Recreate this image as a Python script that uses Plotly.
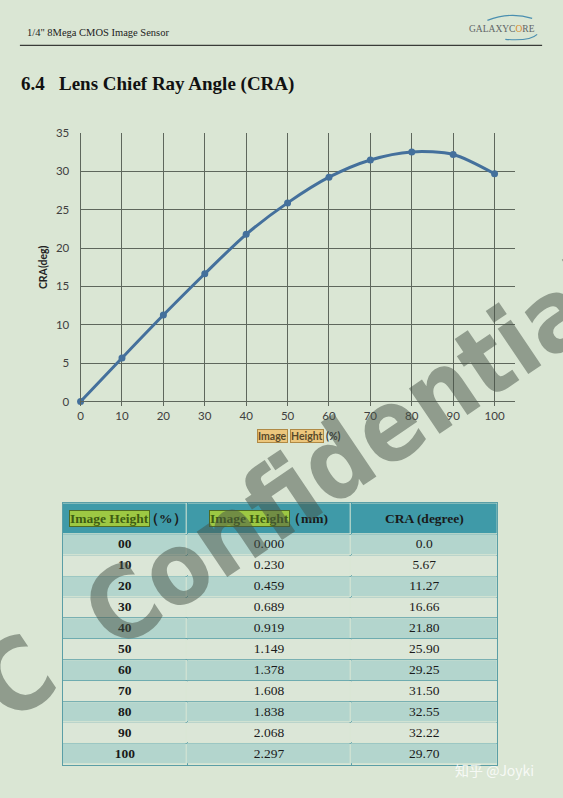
import plotly.graph_objects as go

# chart / table data
image_height_pct = [0, 10, 20, 30, 40, 50, 60, 70, 80, 90, 100]
image_height_mm = [0.000, 0.230, 0.459, 0.689, 0.919, 1.149, 1.378, 1.608, 1.838, 2.068, 2.297]
cra_deg = [0.0, 5.67, 11.27, 16.66, 21.80, 25.90, 29.25, 31.50, 32.55, 32.22, 29.70]

x_ticks = [0, 10, 20, 30, 40, 50, 60, 70, 80, 90, 100]
y_ticks = [0, 5, 10, 15, 20, 25, 30, 35]

W, H = 563, 798
PAGE_BG = "#dae6d4"
LINE_BLUE = "#44709c"
GRID = "#5e675c"
TABLE_LINE = "#5a9ea6"
SERIF = "Liberation Serif"
SANS = "Lato"

# table geometry (pixels inside the table box)
COL_EDGES = [0, 125, 290, 437]
HEADER_H, ROW_H = 31, 21

# the page snapshot comes out slightly squeezed vertically, correct for it
Y_OFF, Y_SCALE = 5.6, 0.986


def px(x):
    return x / W


def py(y):
    return 1 - ((y - Y_OFF) / Y_SCALE) / H


fig = go.Figure()

# ---- chart ----
fig.add_trace(go.Scatter(
    x=image_height_pct,
    y=cra_deg,
    mode="lines+markers",
    line=dict(color=LINE_BLUE, width=3, shape="spline", smoothing=0.8),
    marker=dict(color=LINE_BLUE, size=7),
    cliponaxis=False,
    showlegend=False,
    xaxis="x", yaxis="y",
))

# ---- table (heatmap for the cell fills, text trace for the values) ----
n_rows = len(image_height_pct)
row_edges = [0, HEADER_H] + [HEADER_H + ROW_H * (i + 1) for i in range(n_rows)]
row_mid = [(row_edges[i + 1] + row_edges[i + 2]) / 2 for i in range(n_rows)]
col_mid = [(COL_EDGES[i] + COL_EDGES[i + 1]) / 2 for i in range(3)]

z = [[0, 0, 0]] + [[1 if i % 2 == 0 else 2] * 3 for i in range(n_rows)]
fig.add_trace(go.Heatmap(
    x=COL_EDGES, y=row_edges, z=z,
    zmin=0, zmax=2,
    colorscale=[[0, "#3f9aa8"], [0.5, "#b3d5cd"], [1, "#dbe6d7"]],
    showscale=False, xgap=1, ygap=1, hoverinfo="skip",
    xaxis="x2", yaxis="y2",
))

pct_labels = [f"<b>{v:02d}</b>" for v in image_height_pct]
mm_labels = [f"{v:.3f}" for v in image_height_mm]
cra_labels = ["0.0" if v == 0 else f"{v:.2f}" for v in cra_deg]
for ci, labels in enumerate([pct_labels, mm_labels, cra_labels]):
    fig.add_trace(go.Scatter(
        x=[col_mid[ci]] * n_rows, y=row_mid, text=labels,
        mode="text", textposition="middle center",
        textfont=dict(family=SERIF, size=13.5, color="#1a1a1a"),
        showlegend=False, hoverinfo="skip",
        xaxis="x2", yaxis="y2",
    ))

fig.update_layout(
    width=W, height=H,
    margin=dict(l=0, r=0, t=0, b=0),
    paper_bgcolor=PAGE_BG,
    plot_bgcolor=PAGE_BG,
    xaxis=dict(
        domain=[px(78), px(515)],
        range=[0, 105],
        tickvals=x_ticks,
        showgrid=True, gridcolor=GRID, gridwidth=1,
        showline=True, linecolor=GRID, linewidth=1,
        ticks="outside", ticklen=4, tickcolor=GRID,
        zeroline=False,
        tickfont=dict(family=SANS, size=11.5, color="#404040"),
        fixedrange=True,
    ),
    yaxis=dict(
        domain=[py(401), py(132)],
        range=[0, 35],
        tickvals=y_ticks,
        showgrid=True, gridcolor=GRID, gridwidth=1,
        showline=True, linecolor=GRID, linewidth=1,
        zeroline=False,
        ticks="", ticklabelstandoff=8,
        tickfont=dict(family=SANS, size=11.5, color="#404040"),
        title=dict(text="<b>CRA(deg)</b>", font=dict(family=SANS, size=10.5, color="#222"), standoff=6),
        fixedrange=True,
    ),
    xaxis2=dict(
        domain=[px(60), px(497)], range=[0, COL_EDGES[-1]], anchor="y2",
        tickvals=COL_EDGES, showticklabels=False, ticks="",
        showgrid=True, gridcolor=TABLE_LINE, gridwidth=1, zeroline=False,
        showline=True, linecolor=TABLE_LINE, linewidth=1, mirror=True,
        fixedrange=True,
    ),
    yaxis2=dict(
        domain=[py(765), py(503)], range=[row_edges[-1], 0], anchor="x2",
        tickvals=row_edges, showticklabels=False, ticks="",
        showgrid=True, gridcolor=TABLE_LINE, gridwidth=1, zeroline=False,
        showline=True, linecolor=TABLE_LINE, linewidth=1, mirror=True,
        fixedrange=True,
    ),
)

# page header
fig.add_shape(type="line", xref="paper", yref="paper",
              x0=px(17), x1=px(542), y0=py(44), y1=py(44),
              line=dict(color="#111", width=1))
fig.add_shape(type="path", xref="paper", yref="paper",
              path=f"M {px(487)},{py(19)} Q {px(510)},{py(10)} {px(532)},{py(17)}",
              line=dict(color="#4a8fb0", width=1.2))
fig.add_shape(type="path", xref="paper", yref="paper",
              path=f"M {px(505)},{py(38)} Q {px(530)},{py(40)} {px(537)},{py(33)}",
              line=dict(color="#4a8fb0", width=1.2))

HL_GREEN = dict(bgcolor="#9dc843", bordercolor="#4f6b22", borderwidth=1, borderpad=0)
HL_ORANGE = dict(bgcolor="#ecc67c", bordercolor="#b08a45", borderwidth=1, borderpad=0)
hdr_font = dict(family=SERIF, size=13.5, color="#1a1a1a")
hl_font = dict(family=SERIF, size=13.5, color="#3d5c12")

annotations = [
    dict(text="1/4\" 8Mega CMOS Image Sensor", x=px(22), y=py(31), xanchor="left",
         font=dict(family=SERIF, size=10.5, color="#222")),
    dict(text="GALAXYC<span style='color:#d98a2a'>O</span>RE", x=px(502), y=py(28),
         font=dict(family=SERIF, size=9.5, color="#5f6566")),
    dict(text="<b>6.4&nbsp;&nbsp;&nbsp;Lens Chief Ray Angle (CRA)</b>", x=px(16), y=py(83), xanchor="left",
         font=dict(family=SERIF, size=19, color="#111")),
    # x axis title with highlighted words
    dict(text="<b>Image</b>", x=px(270.5), y=py(436), **HL_ORANGE,
         font=dict(family=SANS, size=10.5, color="#5a4a2a")),
    dict(text="<b>Height</b>", x=px(306), y=py(436), **HL_ORANGE,
         font=dict(family=SANS, size=10.5, color="#5a4a2a")),
    dict(text="<b>(%)</b>", x=px(332), y=py(436),
         font=dict(family=SANS, size=10.5, color="#333")),
    # table header
    dict(text="<b>Image Height</b>", x=47, y=HEADER_H / 2, xref="x2", yref="y2", **HL_GREEN, font=hl_font),
    dict(text="<b>（%）</b>", x=104, y=HEADER_H / 2, xref="x2", yref="y2", font=hdr_font),
    dict(text="<b>Image Height</b>", x=187.5, y=HEADER_H / 2, xref="x2", yref="y2", **HL_GREEN, font=hl_font),
    dict(text="<b>（mm)</b>", x=246, y=HEADER_H / 2, xref="x2", yref="y2", font=hdr_font),
    dict(text="<b>CRA (degree)</b>", x=col_mid[2], y=HEADER_H / 2, xref="x2", yref="y2", font=hdr_font),
    # watermark
    dict(text="<b>GC&nbsp;&nbsp;Confidential</b>", x=px(264), y=py(509), textangle=-34,
         font=dict(family="DejaVu Sans Condensed, DejaVu Sans", size=100, color="rgba(70,82,70,0.5)")),
    dict(text="知乎 @Joyki", x=px(494), y=py(770),
         font=dict(family="Noto Sans CJK SC", size=14, color="rgba(255,255,255,0.8)")),
]
for a in annotations:
    a.setdefault("xref", "paper")
    a.setdefault("yref", "paper")
    a.setdefault("xanchor", "center")
    a.setdefault("yanchor", "middle")
    a.setdefault("showarrow", False)
    fig.add_annotation(**a)

fig.write_html(
    "out.html",
    config={"displayModeBar": False},
    post_script="document.documentElement.style.margin='0';document.body.style.margin='0';",
)
